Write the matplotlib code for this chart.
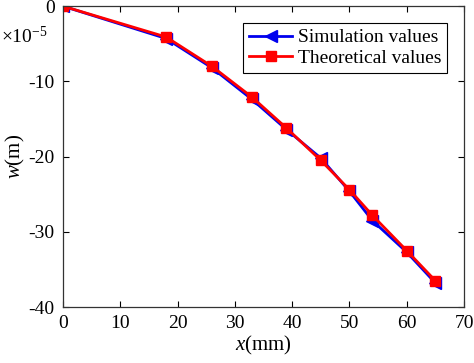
import matplotlib
matplotlib.use("Agg")
import matplotlib.pyplot as plt
from matplotlib.ticker import FuncFormatter

plt.rcParams['font.family'] = ['Liberation Serif', 'DejaVu Serif']
plt.rcParams['mathtext.fontset'] = 'custom'
plt.rcParams['mathtext.rm'] = 'Liberation Serif'
plt.rcParams['mathtext.it'] = 'Liberation Serif:italic'

# x in mm, w in units of 1e-5 m
x_sim = [0, 18, 26, 33, 39, 45, 50, 54, 60, 65]
w_sim = [0, -4.3, -8.2, -12.4, -16.4, -20.2, -24.6, -28.5, -32.7, -36.8]
x_theo = [0, 18, 26, 33, 39, 45, 50, 54, 60, 65]
w_theo = [0, -4.1, -8.0, -12.1, -16.2, -20.5, -24.4, -27.8, -32.5, -36.5]

fig = plt.figure(figsize=(4.74, 3.63), dpi=100)
ax = fig.add_axes([0.133, 0.154, 0.846, 0.829])

ax.plot(x_sim, w_sim, color='#0000ee', lw=2, marker='<', ms=8,
        label='Simulation values')
ax.plot(x_theo, w_theo, color='#ff0000', lw=2, marker='s', ms=7,
        label='Theoretical values')

ax.set_xlim(0, 70)
ax.set_ylim(-40, 0)
ax.set_xticks(range(0, 71, 10))
ax.set_yticks([-40, -30, -20, -10, 0])
ax.yaxis.set_major_formatter(FuncFormatter(lambda v, p: f"{int(v)}".replace('\u2212', '-')))
ax.tick_params(direction='in', top=True, right=True, labelsize=14, length=4, width=0.8, pad=6)
for s in ax.spines.values():
    s.set_color('#333333')
    s.set_linewidth(0.9)

ax.set_xlabel(r'$x$(mm)', fontsize=15, labelpad=1)
ax.set_ylabel(r'$w$(m)', fontsize=15, labelpad=1)
ax.text(-0.155, 0.9, r'$\times$10$^{-5}$', transform=ax.transAxes, fontsize=14,
        ha='left', va='center')

leg = ax.legend(loc='upper right', bbox_to_anchor=(0.958, 0.944), fontsize=14,
                fancybox=False, framealpha=1, edgecolor='black',
                handlelength=2.2, handletextpad=0.3, borderpad=0.3,
                labelspacing=0.15, borderaxespad=0)
leg.get_frame().set_linewidth(0.8)

fig.savefig('out.png', dpi=100)
